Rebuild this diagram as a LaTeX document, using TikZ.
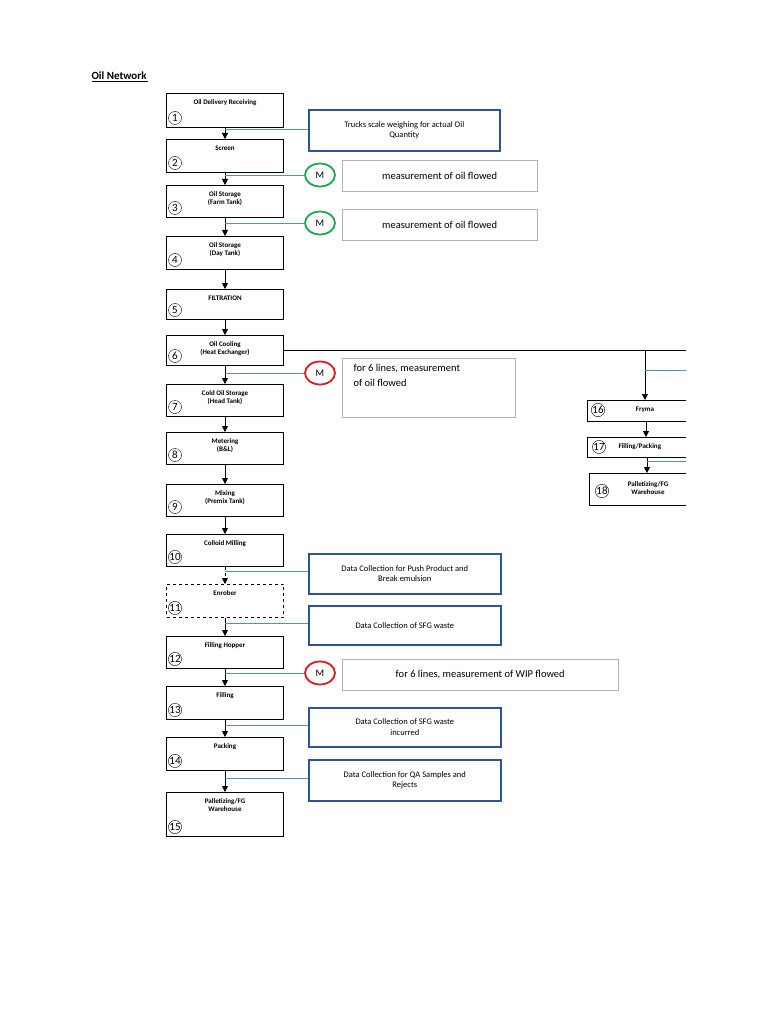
\documentclass[tikz,border=0pt]{standalone}
\usepackage{fontspec}
\setmainfont{Carlito}
\usetikzlibrary{arrows.meta,shapes.geometric}
\definecolor{dblue}{HTML}{2F5496}
\definecolor{lblue}{HTML}{5B8BC6}
\definecolor{mgreen}{HTML}{1FA84A}
\definecolor{mred}{HTML}{E0191C}
\begin{document}
\begin{tikzpicture}[x=1pt,y=-1pt,
 proc/.style={draw,thick,minimum width=117pt,align=center,font=\fontsize{7}{8}\selectfont\bfseries,anchor=north west,inner sep=1pt},
 num/.style={circle,draw,inner sep=0pt,minimum size=13pt,font=\fontsize{11}{11}\selectfont},
 data/.style={draw=dblue,line width=1.6pt,align=center,font=\fontsize{8.5}{10.5}\selectfont,anchor=north west},
 meas/.style={draw=black!30,align=left,font=\fontsize{10.5}{12}\selectfont,anchor=north west,inner sep=6pt},
 mc/.style={ellipse,draw=#1,line width=1.8pt,minimum width=30pt,minimum height=23pt,inner sep=0pt,font=\fontsize{10}{10}\selectfont},
 arr/.style={-{Triangle[length=6pt,width=6pt]},thick},
 bl/.style={draw=lblue,thick}]
\useasboundingbox (0,0) rectangle (768,1024);
\node[anchor=west,font=\fontsize{11}{13}\selectfont\bfseries] (title) at (88,77) {\underline{Oil Network\,}};
\foreach \n/\t/\b/\txt/\k in {b1/93/127/Oil Delivery Receiving/1, b2/139/172/Screen/2, b3/185/217/{Oil Storage\\(Farm Tank)}/3, b4/236/269/{Oil Storage\\(Day Tank)}/4, b5/289/319/FILTRATION/5, b6/335/365/{Oil Cooling\\(Heat Exchanger)}/6, b7/384/416/{Cold Oil Storage\\(Head Tank)}/7, b8/432/464/{Metering\\(B\&L)}/8, b9/484/516/{Mixing\\(Premix Tank)}/9, b10/534/566/Colloid Milling/10, b12/636/668/Filling Hopper/12, b13/686/719/Filling/13, b14/737/770/Packing/14, b15/792/836/{Palletizing/FG\\Warehouse}/15}{
 \node[proc,minimum height={(\b-\t)*1pt},anchor=north,text depth=0pt] (\n) at (225,\t) {};
 \node[anchor=north,font=\fontsize{7}{8}\selectfont\bfseries,align=center] (\n t) at (225,\t+3) {\txt};
 \node[num] (\n n) at (175,\b-9) {\k};
}
\node[proc,dashed,minimum height=33pt,anchor=north] (b11) at (225,584) {};
\node[anchor=north,font=\fontsize{7}{8}\selectfont\bfseries] (b11t) at (225,587) {Enrober};
\node[num] (b11n) at (175,608) {11};
\foreach \a/\b in {b1/b2,b2/b3,b3/b4,b4/b5,b5/b6,b6/b7,b7/b8,b8/b9,b9/b10,b11/b12,b12/b13,b13/b14,b14/b15}{
 \draw[arr] (\a.south) -- (\b.north);}
\draw[arr,dashed] (b10.south) -- (b11.north);
\node[data,minimum width=191pt,minimum height=41pt] (d0) at (308,109) {Trucks scale weighing for actual Oil\\Quantity};
\node[mc=mgreen] (m1) at (320,175) {M};
\node[meas,minimum width=195pt,minimum height=31pt] (t1) at (342,160) {measurement of oil flowed};
\node[mc=mgreen] (m2) at (320,223) {M};
\node[meas,minimum width=195pt,minimum height=31pt] (t2) at (342,209) {measurement of oil flowed};
\node[mc=mred] (m3) at (320,373) {M};
\node[meas,minimum width=173pt,minimum height=59pt,inner sep=0pt] (t3) at (342,358) {};
\node[anchor=north west,font=\fontsize{10.5}{15}\selectfont,align=left] (t3t) at (350,361) {for 6 lines, measurement\\of oil flowed};
\node[data,minimum width=192pt,minimum height=40pt] (d1) at (308,553) {Data Collection for Push Product and\\Break emulsion};
\node[data,minimum width=192pt,minimum height=39pt] (d2) at (308,605) {Data Collection of SFG waste};
\node[mc=mred] (m4) at (320,673) {M};
\node[meas,minimum width=276pt,minimum height=31pt] (t4) at (342,659) {for 6 lines, measurement of WIP flowed};
\node[data,minimum width=192pt,minimum height=39pt] (d3) at (308,707) {Data Collection of SFG waste\\incurred};
\node[data,minimum width=192pt,minimum height=41pt] (d4) at (308,759) {Data Collection for QA Samples and\\Rejects};
\coordinate (c0) at (225,129); \draw[bl] (c0) -- (c0 -| d0.west);
\coordinate (c1) at (225,175); \draw[bl] (c1) -- (m1.west);
\coordinate (c2) at (225,223); \draw[bl] (c2) -- (m2.west);
\coordinate (c3) at (225,373); \draw[bl] (c3) -- (m3.west);
\coordinate (c4) at (225,571); \draw[bl] (c4) -- (c4 -| d1.west);
\coordinate (c5) at (225,623); \draw[bl] (c5) -- (c5 -| d2.west);
\coordinate (c6) at (225,673); \draw[bl] (c6) -- (m4.west);
\coordinate (c7) at (225,725); \draw[bl] (c7) -- (c7 -| d3.west);
\coordinate (c8) at (225,778); \draw[bl] (c8) -- (c8 -| d4.west);
\begin{scope}
\clip (0,0) rectangle (686,1024);
\coordinate (e1) at (700,350);
\coordinate (s1) at (283,350);
\draw[thick] (s1) -- (e1);
\node[proc,minimum width=120pt,minimum height=21pt,anchor=north west] (r16) at (587,400) {};
\node[font=\fontsize{7}{8}\selectfont\bfseries] (r16t) at (645,410) {Fryma};
\node[num] (r16n) at (598,410) {16};
\node[proc,minimum width=120pt,minimum height=20pt,anchor=north west] (r17) at (587,437) {};
\node[anchor=west,font=\fontsize{7}{8}\selectfont\bfseries] (r17t) at (615,447) {Filling/Packing};
\node[num] (r17n) at (599,447) {17};
\node[proc,minimum width=120pt,minimum height=32pt,anchor=north west] (r18) at (589,473) {};
\node[font=\fontsize{7}{8}\selectfont\bfseries,align=center] (r18t) at (648,488) {Palletizing/FG\\Warehouse};
\node[num] (r18n) at (602,491) {18};
\coordinate (j1) at (645,350);
\draw[arr] (j1) -- (j1 |- r16.north);
\coordinate (k1) at (645,370); \coordinate (k2) at (700,370);
\draw[bl] (k1) -- (k2);
\coordinate (j2) at (646,421); \coordinate (j3) at (646,437);
\draw[arr] (j2) -- (j3);
\coordinate (j4) at (647,457); \coordinate (j5) at (647,473);
\draw[arr] (j4) -- (j5);
\coordinate (k3) at (647,461); \coordinate (k4) at (700,461);
\draw[bl] (k3) -- (k4);
\end{scope}
\end{tikzpicture}
\end{document}
